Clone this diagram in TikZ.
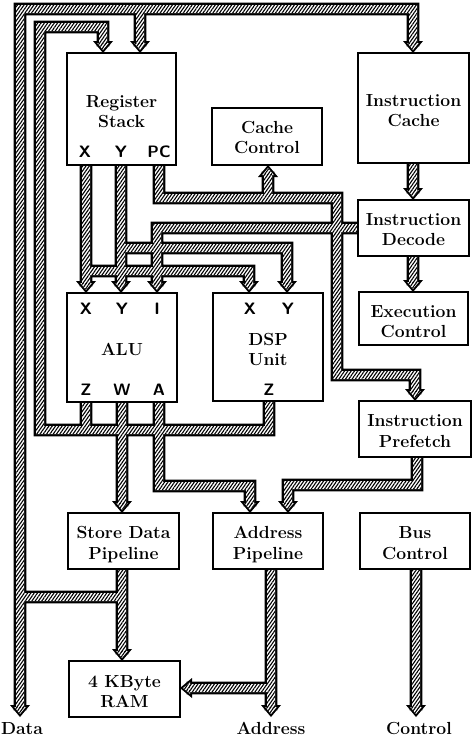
\documentclass[tikz,border=0pt]{standalone}
\usetikzlibrary{patterns.meta}
\begin{document}
\newcommand\sg[4]{(#1-\ex,#2-\ex) rectangle (#3+\ex,#4+\ex)}
\newcommand\aD[2]{(#1-10+4.25*\k,#2-12+2*\k) -- (#1+10-4.25*\k,#2-12+2*\k) -- (#1,#2-3.1*\k) -- cycle}
\newcommand\aU[2]{(#1+10-4.25*\k,#2+12-2*\k) -- (#1-10+4.25*\k,#2+12-2*\k) -- (#1,#2+3.1*\k) -- cycle}
\newcommand\aL[2]{(#1+12-2*\k,#2-10+4.25*\k) -- (#1+12-2*\k,#2+10-4.25*\k) -- (#1+3.1*\k,#2) -- cycle}
\newcommand\Buses{%
 \sg{20}{9}{20}{704} \sg{20}{9}{413}{9} \sg{413}{9}{413}{40} \sg{140}{9}{140}{40}
 \sg{40}{27}{40}{430} \sg{40}{27}{103}{27} \sg{103}{27}{103}{40}
 \sg{40}{430}{269}{430} \sg{269}{395}{269}{430} \sg{86}{395}{86}{430}
 \sg{122}{395}{122}{500} \sg{159}{395}{159}{486} \sg{159}{486}{250}{486} \sg{250}{486}{250}{500}
 \sg{20}{597}{122}{597} \sg{122}{565}{122}{648}
 \sg{86}{160}{86}{280} \sg{86}{271}{249}{271} \sg{249}{271}{249}{280}
 \sg{121}{160}{121}{280} \sg{121}{248}{287}{248} \sg{287}{248}{287}{280}
 \sg{159}{160}{159}{198} \sg{159}{198}{337}{198} \sg{337}{198}{337}{375} \sg{337}{375}{415}{375} \sg{415}{375}{415}{388}
 \sg{268}{178}{268}{198}
 \sg{157}{228}{362}{228} \sg{157}{228}{157}{280}
 \sg{413}{158}{413}{187} \sg{413}{250}{413}{279}
 \sg{417}{452}{417}{485} \sg{288}{485}{417}{485} \sg{288}{485}{288}{500}
 \sg{271}{565}{271}{704} \sg{193}{688}{271}{688}
 \sg{416}{565}{416}{704}%
}
\newcommand\Arrows{%
 \aD{20}{717} \aD{413}{53} \aD{140}{53} \aD{103}{53}
 \aD{122}{513} \aD{250}{513} \aD{122}{661}
 \aD{86}{293} \aD{249}{293} \aD{121}{293} \aD{287}{293} \aD{157}{293}
 \aD{415}{401} \aU{268}{165} \aD{413}{200} \aD{413}{292}
 \aD{288}{513} \aL{180}{688} \aD{271}{717} \aD{416}{717}%
}
\tikzset{
 box/.style={draw, line width=1.8pt, fill=white, inner sep=0pt},
 lbl/.style={font=\fontsize{17.5}{20}\selectfont\bfseries, anchor=base, inner sep=0pt},
 port/.style={font=\fontsize{16.5}{19}\selectfont\sffamily\bfseries, anchor=base, inner sep=0pt},
 hatch/.style={pattern={Lines[angle=55,distance=2.7pt,line width=1.1pt]}}
}
\begin{tikzpicture}[x=1pt,y=-1pt]
\useasboundingbox (0,0) rectangle (474,736);
\fill[white] (0,0) rectangle (474,736);
% bus layers
\def\ex{6.3}\def\k{0}
\fill[black] \Buses;
\fill[black] \Arrows;
\def\ex{4}\def\k{1}
\fill[white] \Buses;
\fill[white] \Arrows;
\fill[hatch] \Buses;
\fill[hatch] \Arrows;
% boxes
\node[box, minimum width=109pt, minimum height=112pt] (rs) at (121.5,109) {};
\node[box, minimum width=111pt, minimum height=110pt] (ic) at (413.5,108) {};
\node[box, minimum width=110pt, minimum height=57pt] (cc) at (267,136.5) {};
\node[box, minimum width=111pt, minimum height=56pt] (id) at (413.5,228) {};
\node[box, minimum width=109pt, minimum height=53pt] (ec) at (413.5,318.5) {};
\node[box, minimum width=110pt, minimum height=109pt] (alu) at (122,347.5) {};
\node[box, minimum width=110pt, minimum height=108pt] (dsp) at (268,347) {};
\node[box, minimum width=112pt, minimum height=56pt] (ip) at (415,429) {};
\node[box, minimum width=111pt, minimum height=56pt] (sd) at (123.5,541) {};
\node[box, minimum width=110pt, minimum height=56pt] (ap) at (268,541) {};
\node[box, minimum width=110pt, minimum height=56pt] (bc) at (415,541) {};
\node[box, minimum width=111pt, minimum height=56pt] (ram) at (124.5,689) {};
% texts
\node[lbl] (t1) at (121.5,107) {Register};
\node[lbl] (t2) at (121.5,127) {Stack};
\node[port] (p1) at (85,157) {X};
\node[port] (p2) at (121,157) {Y};
\node[port] (p3) at (159,157) {PC};
\node[lbl] (t3) at (413.5,106) {Instruction};
\node[lbl] (t4) at (413.5,126) {Cache};
\node[lbl] (t5) at (267,133) {Cache};
\node[lbl] (t6) at (267,153) {Control};
\node[lbl] (t7) at (413.5,225) {Instruction};
\node[lbl] (t8) at (413.5,245) {Decode};
\node[lbl] (t9) at (413.5,317) {Execution};
\node[lbl] (t10) at (413.5,337) {Control};
\node[port] (p4) at (86,314) {X};
\node[port] (p5) at (122,314) {Y};
\node[port] (p6) at (157,314) {I};
\node[lbl] (t11) at (122,355) {ALU};
\node[port] (p7) at (86,395) {Z};
\node[port] (p8) at (122,395) {W};
\node[port] (p9) at (159,395) {A};
\node[port] (p10) at (250,314) {X};
\node[port] (p11) at (288,314) {Y};
\node[lbl] (t12) at (268,345) {DSP};
\node[lbl] (t13) at (268,365) {Unit};
\node[port] (p12) at (269,395) {Z};
\node[lbl] (t14) at (415,426) {Instruction};
\node[lbl] (t15) at (415,447) {Prefetch};
\node[lbl] (t16) at (123.5,538) {Store Data};
\node[lbl] (t17) at (123.5,559) {Pipeline};
\node[lbl] (t18) at (268,538) {Address};
\node[lbl] (t19) at (268,559) {Pipeline};
\node[lbl] (t20) at (415,538) {Bus};
\node[lbl] (t21) at (415,559) {Control};
\node[lbl] (t22) at (124.5,687) {4 KByte};
\node[lbl] (t23) at (124.5,707) {RAM};
\node[lbl] (t24) at (22,734) {Data};
\node[lbl] (t25) at (271,734) {Address};
\node[lbl] (t26) at (419,734) {Control};
\end{tikzpicture}
\end{document}
